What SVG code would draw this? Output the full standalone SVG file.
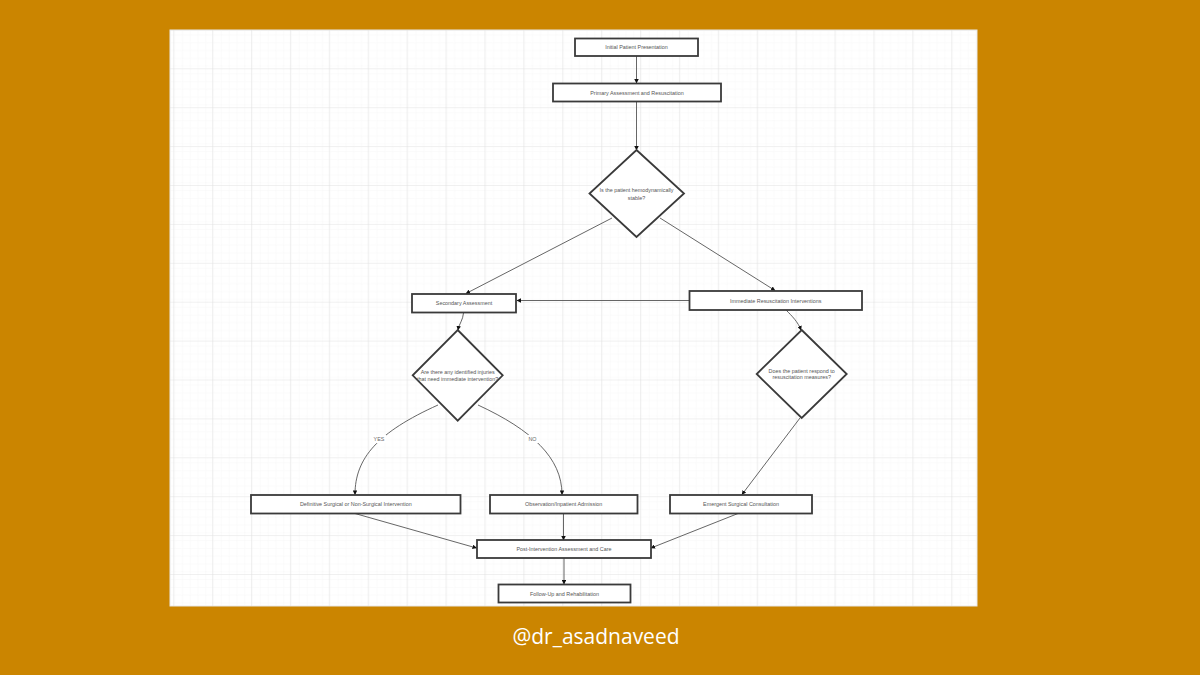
<svg xmlns="http://www.w3.org/2000/svg" width="1200" height="675" viewBox="0 0 1200 675">
<style>
.node rect,.node polygon{fill:#ffffff;stroke:#3a3a3a;stroke-width:1.8}
.node text{font-family:"Liberation Sans",Arial,sans-serif;font-size:5.4px;fill:#555;text-anchor:middle;dominant-baseline:central}
.conn path{fill:none;stroke:#555;stroke-width:0.9}
.lbl{font-family:"Liberation Sans",Arial,sans-serif;font-size:5.4px;fill:#666;text-anchor:middle;dominant-baseline:central}
</style>
<defs>
<pattern id="minor" x="173.2" y="29.4" width="7.78" height="7.78" patternUnits="userSpaceOnUse">
<path d="M7.78 0V7.78M0 7.78H7.78" fill="none" stroke="#f1f1f1" stroke-width="0.6"/>
</pattern>
<pattern id="major" x="173.2" y="29.4" width="38.9" height="38.9" patternUnits="userSpaceOnUse">
<rect width="38.9" height="38.9" fill="url(#minor)"/>
<path d="M0 0V38.9M0 0H38.9" fill="none" stroke="#dedede" stroke-width="0.9"/>
</pattern>
<marker id="arr" viewBox="0 0 10 10" refX="9" refY="5" markerWidth="4.5" markerHeight="4.5" markerUnits="userSpaceOnUse" orient="auto">
<path d="M0 0L10 5L0 10z" fill="#111"/>
</marker>
</defs>
<rect width="1200" height="675" fill="#CB8500"/>
<rect x="170" y="30" width="807" height="576" fill="#ffffff" stroke="#e8e8e8" stroke-width="1"/>
<rect x="170" y="30" width="807" height="576" fill="url(#major)"/>

<g id="connectors" class="conn">
<path d="M636.5 56V83" marker-end="url(#arr)"/>
<path d="M636.5 102V150" marker-end="url(#arr)"/>
<path d="M612 218L466 293.5" marker-end="url(#arr)"/>
<path d="M660 218L775 290.5" marker-end="url(#arr)"/>
<path d="M689 300.5H517" marker-end="url(#arr)"/>
<path d="M463.5 313C463 320 459 324 458 330" marker-end="url(#arr)"/>
<path d="M786 310C792 316 798 322 801 330" marker-end="url(#arr)"/>
<path d="M438 405C378 432 355 458 355 494.5" marker-end="url(#arr)"/>
<path d="M478 405C532 430 562 458 562 494.5" marker-end="url(#arr)"/>
<path d="M800 418L742 494.5" marker-end="url(#arr)"/>
<path d="M355 513.5L476.5 548" marker-end="url(#arr)"/>
<path d="M563.5 513.5V540" marker-end="url(#arr)"/>
<path d="M738 513.5L651 548" marker-end="url(#arr)"/>
<path d="M564 558V584" marker-end="url(#arr)"/>
<rect x="372" y="435" width="14" height="8" fill="#ffffff" stroke="none"/>
<text class="lbl" x="379" y="439">YES</text>
<rect x="526" y="435" width="13" height="8" fill="#ffffff" stroke="none"/>
<text class="lbl" x="532.5" y="439">NO</text>
</g>

<g id="n1" class="node"><rect x="575" y="38.5" width="123" height="17.5"/><text x="636.5" y="47.3">Initial Patient Presentation</text></g>
<g id="n2" class="node"><rect x="553" y="83.5" width="168" height="18"/><text x="637" y="92.5">Primary Assessment and Resuscitation</text></g>
<g id="n3" class="node"><polygon points="636.5,150 684,193.5 636.5,237 589.5,193.5"/><text x="636.5" y="190">Is the patient hemodynamically</text><text x="636.5" y="197.5">stable?</text></g>
<g id="n4" class="node"><rect x="412" y="294" width="104" height="18.5"/><text x="464" y="303.3">Secondary Assessment</text></g>
<g id="n5" class="node"><rect x="689.5" y="291" width="172.5" height="19"/><text x="775.8" y="300.5">Immediate Resuscitation Interventions</text></g>
<g id="n6" class="node"><polygon points="457.7,330 502.7,375.3 457.7,420.7 412.7,375.3"/><text x="457.7" y="372">Are there any identified injuries</text><text x="457.7" y="379">that need immediate intervention?</text></g>
<g id="n7" class="node"><polygon points="801.7,330 846.7,374 801.7,418 756.7,374"/><text x="801.7" y="370.5">Does the patient respond to</text><text x="801.7" y="377.3">resuscitation measures?</text></g>
<g id="n8" class="node"><rect x="251" y="495" width="209.5" height="18.5"/><text x="355.8" y="504.3">Definitive Surgical or Non-Surgical Intervention</text></g>
<g id="n9" class="node"><rect x="490" y="495" width="147.5" height="18.5"/><text x="563.7" y="504.3">Observation/Inpatient Admission</text></g>
<g id="n10" class="node"><rect x="670" y="495" width="142" height="18.5"/><text x="741" y="504.3">Emergent Surgical Consultation</text></g>
<g id="n11" class="node"><rect x="477" y="540" width="174" height="18"/><text x="564" y="549">Post-Intervention Assessment and Care</text></g>
<g id="n12" class="node"><rect x="498.5" y="584.5" width="132" height="18"/><text x="564.5" y="593.5">Follow-Up and Rehabilitation</text></g>

<text x="596" y="644" font-family="'Open Sans','Liberation Sans',sans-serif" font-size="21" fill="#ffffff" text-anchor="middle">@dr_asadnaveed</text>
</svg>
